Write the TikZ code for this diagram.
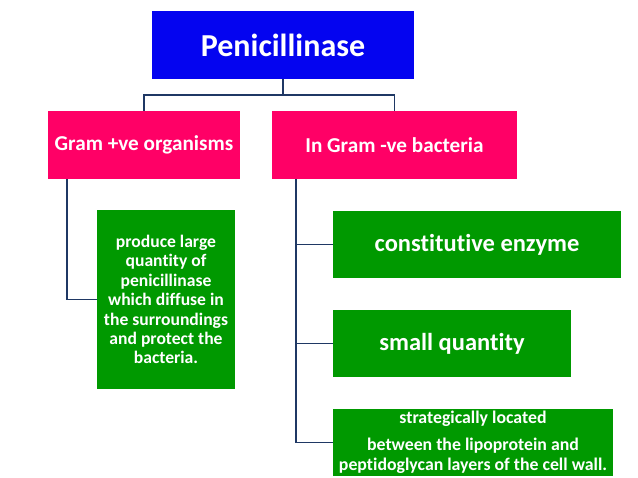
\documentclass[tikz,border=0pt]{standalone}
\usepackage{fontspec}
\setmainfont{Carlito}[Ligatures={NoCommon}]
\definecolor{topblue}{RGB}{4,4,240}
\definecolor{pinkc}{RGB}{255,0,102}
\definecolor{greenc}{RGB}{0,153,0}
\definecolor{linec}{RGB}{31,56,100}
\begin{document}
\begin{tikzpicture}[x=1pt,y=-1pt,
  boxn/.style={draw=none,inner sep=0pt,text=white,font=\bfseries,align=center},
  conn/.style={draw=linec,line width=1.6pt}]
\useasboundingbox (0,0) rectangle (638,478);
\node[boxn,fill=topblue,minimum width=262pt,minimum height=68pt,font=\bfseries\fontsize{32}{36}\selectfont] (top) at (283,45) {Penicillinase};
\node[boxn,fill=pinkc,minimum width=192pt,minimum height=68pt,font=\bfseries\fontsize{21.2}{25}\selectfont] (pl) at (144,145) {Gram +ve organisms};
\node[boxn,fill=pinkc,minimum width=245pt,minimum height=68pt,font=\bfseries\fontsize{21.2}{25}\selectfont] (pr) at (394.5,145) {In Gram -ve bacteria};
\node[boxn,fill=greenc,minimum width=138pt,minimum height=179pt,font=\bfseries\fontsize{17.6}{19.4}\selectfont] (gl) at (166,299.5) {produce large\\quantity of\\penicillinase\\which diffuse in\\the surroundings\\and protect the\\bacteria.};
\node[boxn,fill=greenc,minimum width=288pt,minimum height=67pt,font=\bfseries\fontsize{24.5}{28}\selectfont] (g1) at (477,244.5) {constitutive enzyme};
\node[boxn,fill=greenc,minimum width=238pt,minimum height=67pt,font=\bfseries\fontsize{24.5}{28}\selectfont] (g2) at (452,343.5) {small quantity};
\node[boxn,fill=greenc,minimum width=280pt,minimum height=67pt,font=\bfseries\fontsize{17.8}{20}\selectfont] (g3) at (473,442.5) {strategically located\\[7pt]between the lipoprotein and\\peptidoglycan layers of the cell wall.};
\draw[conn] (top.south) -- ++(0,16) -| (pl.north);
\draw[conn] (top.south) -- ++(0,16) -| (pr.north);
\draw[conn] ([xshift=-77pt]pl.south) |- (gl.west);
\draw[conn] ([xshift=-98.5pt]pr.south) |- (g1.west);
\draw[conn] ([xshift=-98.5pt]pr.south) |- (g2.west);
\draw[conn] ([xshift=-98.5pt]pr.south) |- (g3.west);
\end{tikzpicture}
\end{document}
